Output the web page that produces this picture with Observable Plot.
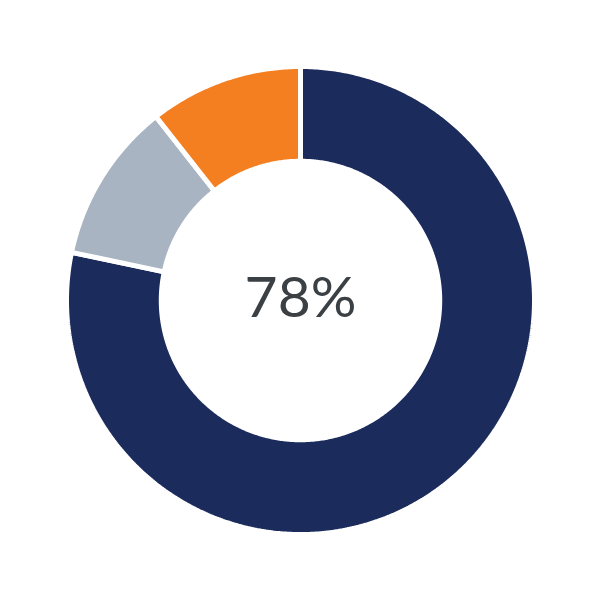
<!DOCTYPE html>
<html>
<head>
<meta charset="utf-8">
<script src="https://cdn.jsdelivr.net/npm/d3@7"></script>
<script src="https://cdn.jsdelivr.net/npm/@observablehq/plot@0.6"></script>
<style>
  html, body { margin: 0; padding: 0; background: #ffffff; }
  #chart { width: 600px; height: 600px; }
</style>
</head>
<body>
<div id="chart"></div>
<script>
// Data
const categories = ["Primary", "Secondary", "Other"];
const values = [78.3, 11.1, 10.6];
const colors = ["#1b2b5b", "#a9b4c2", "#f47f20"];
const centerLabel = Math.round(values[0]) + "%";

// Build ring geometry from the values (angles measured clockwise from 12 o'clock)
const total = d3.sum(values);
const outerR = 1.0;
const innerR = 0.595;
const pts = [];
let cum = 0;
categories.forEach((name, i) => {
  const a0 = (cum / total) * 2 * Math.PI;
  cum += values[i];
  const a1 = (cum / total) * 2 * Math.PI;
  const n = Math.max(8, Math.ceil((a1 - a0) / 0.01));
  const ring = [];
  for (let k = 0; k <= n; k++) {
    const a = a0 + (a1 - a0) * k / n;
    ring.push({name, x: outerR * Math.sin(a), y: outerR * Math.cos(a)});
  }
  for (let k = n; k >= 0; k--) {
    const a = a0 + (a1 - a0) * k / n;
    ring.push({name, x: innerR * Math.sin(a), y: innerR * Math.cos(a)});
  }
  ring.push(ring[0]);
  pts.push(...ring);
});

const ext = 300 / 234;
const chart = Plot.plot({
  width: 600,
  height: 600,
  margin: 0,
  x: {domain: [-ext, ext], axis: null},
  y: {domain: [-ext, ext], axis: null},
  color: {domain: categories, range: colors},
  marks: [
    Plot.line(pts, {x: "x", y: "y", z: "name", fill: "name", stroke: "white", strokeWidth: 5, strokeLinejoin: "miter", curve: "linear"}),
    Plot.text([centerLabel], {x: () => 0, y: () => 0, text: d => d, fontSize: 57, fontFamily: "Lato", fill: "#3b4045", dy: -2})
  ]
});
document.getElementById("chart").appendChild(chart);
</script>
</body>
</html>
